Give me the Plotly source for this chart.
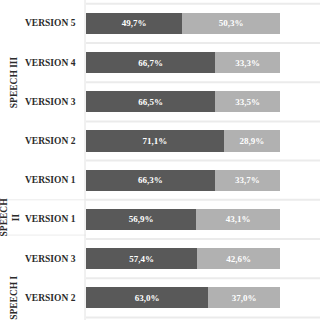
import plotly.graph_objects as go

# Data (top to bottom)
versions = ["VERSION 5", "VERSION 4", "VERSION 3", "VERSION 2", "VERSION 1",
            "VERSION 1", "VERSION 3", "VERSION 2"]
speeches = ["SPEECH III"] * 5 + ["SPEECH<br>II"] + ["SPEECH I"] * 2
share_a = [49.7, 66.7, 66.5, 71.1, 66.3, 56.9, 57.4, 63.0]
share_b = [50.3, 33.3, 33.5, 28.9, 33.7, 43.1, 42.6, 37.0]

def fmt(v):
    return f"{v:.1f}".replace(".", ",") + "%"

rows = list(range(len(versions)))
W, L = 320, 86
PW = W - L

serif = "Liberation Serif"
fig = go.Figure()
fig.add_trace(go.Bar(
    y=rows, x=share_a, orientation="h", width=0.54,
    marker=dict(color="#595959", line=dict(width=0)),
    text=[fmt(v) for v in share_a], textposition="inside",
    insidetextanchor="middle", constraintext="none",
    textfont=dict(family=serif, size=9, color="white", weight="bold"),
    hoverinfo="skip"))
fig.add_trace(go.Bar(
    y=rows, x=share_b, orientation="h", width=0.54,
    marker=dict(color="#b1b1b1", line=dict(width=0)),
    text=[fmt(v) for v in share_b], textposition="inside",
    insidetextanchor="middle", constraintext="none",
    textfont=dict(family=serif, size=9, color="white", weight="bold"),
    hoverinfo="skip"))

shapes = []
# row separators
for i in range(len(rows) + 1):
    shapes.append(dict(type="line", xref="paper", yref="y", x0=0, x1=1,
                       y0=i - 0.5, y1=i - 0.5,
                       line=dict(color="#ebebeb", width=2), layer="below"))
# group separators in label area
for yb in [4.5, 5.4]:
    shapes.append(dict(type="line", xref="paper", yref="y", x0=-L / PW, x1=0,
                       y0=yb, y1=yb, line=dict(color="#ececec", width=1)))
# vertical axis line
shapes.append(dict(type="line", xref="paper", yref="paper", x0=-1 / PW, x1=-1 / PW,
                   y0=0, y1=1, line=dict(color="#e2e2e2", width=1)))

annotations = []
for i, v in enumerate(versions):
    annotations.append(dict(text=v, xref="paper", yref="y", x=(78 - L) / PW, y=i,
                            xanchor="right", yanchor="middle", showarrow=False,
                            font=dict(family=serif, size=9.5, color="#2b2b2b", weight="bold")))
group_pos = {"SPEECH III": (14, 1.5), "SPEECH<br>II": (10, 4.95), "SPEECH I": (14, 7.0)}
for name, (xp, yp) in group_pos.items():
    annotations.append(dict(text=name, xref="paper", yref="y", x=(xp - L) / PW, y=yp,
                            xanchor="center", yanchor="middle", showarrow=False,
                            textangle=-90,
                            font=dict(family=serif, size=9.5, color="#2b2b2b", weight="bold")))

fig.update_layout(
    width=W, height=320, barmode="stack", showlegend=False,
    margin=dict(l=L, r=0, t=0, b=0),
    paper_bgcolor="white", plot_bgcolor="white",
    xaxis=dict(range=[0, 100 * PW / 194], visible=False, fixedrange=True),
    yaxis=dict(range=[7.566, -0.597], visible=False, fixedrange=True),
    shapes=shapes, annotations=annotations,
)
fig.write_html("out.html")
